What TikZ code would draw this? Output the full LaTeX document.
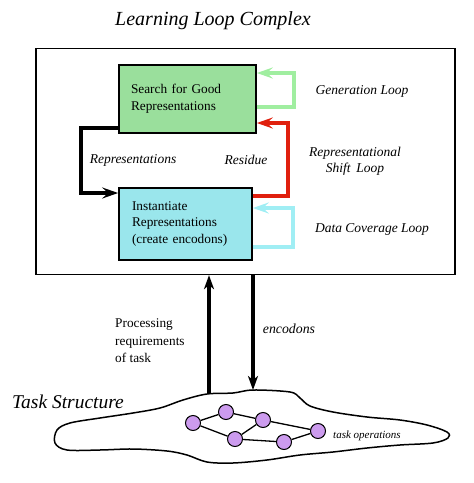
\documentclass[tikz,border=0pt]{standalone}
\usepackage{fontspec}
\setmainfont{Liberation Serif}
\usetikzlibrary{arrows.meta,calc}
\definecolor{boxgreen}{HTML}{9ADF9C}
\definecolor{loopgreen}{HTML}{A0EEA0}
\definecolor{boxcyan}{HTML}{9AE6EC}
\definecolor{loopcyan}{HTML}{A0EEF4}
\definecolor{loopred}{HTML}{E0200E}
\definecolor{opfill}{HTML}{CC9BEE}
\tikzset{
  procbox/.style={draw=black, line width=1.6pt, align=left, anchor=center},
  loopline/.style={line width=4.5pt, line join=miter, -{Stealth[length=16pt,width=11pt,inset=6pt]}},
  bigarrow/.style={line width=4pt, -{Stealth[length=14pt,width=10pt,inset=4pt]}},
  lbl/.style={font=\fontsize{13.5}{16}\selectfont\itshape, inner sep=0pt},
  op/.style={circle, draw=black, line width=1pt, fill=opfill, minimum size=15pt, inner sep=0pt},
  opedge/.style={line width=1.3pt}
}
\begin{document}
\begin{tikzpicture}[x=1pt,y=-1pt]
\useasboundingbox (0,0) rectangle (474,483);
% title
\node[inner sep=0pt, font=\fontsize{20}{24}\selectfont\itshape] (title) at (213,21) {Learning Loop Complex};
% outer box
\node[draw=black, line width=1.3pt, minimum width=419pt, minimum height=226pt, inner sep=0pt] (outer) at (245.5,161.5) {};
% boxes
\node[procbox, fill=boxgreen, minimum width=137pt, minimum height=68pt, text width=113pt, inner xsep=12pt,
      font=\fontsize{13.3}{17}\selectfont] (g) at (187.5,99) {Search for Good\\Representations};
\node[procbox, fill=boxcyan, minimum width=133pt, minimum height=72pt, text width=107pt, inner xsep=13pt,
      font=\fontsize{13.3}{16.5}\selectfont] (c) at (185.5,224) {Instantiate\\Representations\\(create encodons)};
% loops
\draw[loopline, draw=loopgreen] ([yshift=-8pt]g.east) -- ++(37,0) |- ([yshift=26pt]g.east);
\draw[loopline, draw=loopred] ([yshift=28pt]c.east) -- (288,196) |- ([yshift=-24pt]g.east);
\draw[loopline, draw=loopcyan] ([yshift=-23pt]c.east) -- ++(40,0) |- ([yshift=16pt]c.east);
\draw[loopline, draw=black] ([yshift=-29pt]g.west) -- (81,128) |- ([yshift=31pt]c.west);
% loop labels
\node[lbl] (lgen) at (362,91) {Generation Loop};
\node[lbl, align=center] (lshift) at (355,161) {Representational\\Shift\, Loop};
\node[lbl] (ldata) at (372,229) {Data Coverage Loop};
\node[lbl] (lrep) at (133,160) {Representations};
\node[lbl] (lres) at (246,160) {Residue};
% task structure blob
\draw[line width=1.5pt] plot[smooth cycle, tension=0.55] coordinates {
 (207,394) (233,393) (253,390) (290,392) (300,398) (310,406) (333,412) (367,417)
 (400,420) (427,425) (447,432) (448,438) (433,443) (400,445) (367,448) (333,452)
 (300,455) (267,460) (233,463) (207,462) (187,455) (167,451) (133,449) (100,450)
 (67,450) (55,443) (57,430) (70,423) (100,418) (133,413) (160,408) (183,400)};
\coordinate (b1) at (209,393);
\coordinate (b2) at (253,390);
\node[inner sep=0pt, font=\fontsize{19.5}{23}\selectfont\itshape] (ts) at (68,402) {Task Structure};
% vertical arrows
\draw[bigarrow] (b1) -- (b1 |- outer.south);
\draw[bigarrow] (b2 |- outer.south) -- (b2);
\node[inner sep=0pt, align=left, anchor=west, font=\fontsize{13.3}{17.5}\selectfont] (proc) at (115,341) {Processing\\requirements\\of task};
\node[lbl, font=\fontsize{13.8}{16}\selectfont\itshape] (enc) at (289,329) {encodons};
% task operations graph
\node[op] (n1) at (193,423) {};
\node[op] (n2) at (226,412) {};
\node[op] (n3) at (263,420) {};
\node[op] (n4) at (235,439) {};
\node[op] (n5) at (284,442) {};
\node[op] (n6) at (318,431) {};
\draw[opedge] (n1) -- (n2) (n2) -- (n3) (n1) -- (n4) (n4) -- (n3) (n3) -- (n6) (n4) -- (n5) (n5) -- (n6);
\node[inner sep=0pt, font=\fontsize{11}{13}\selectfont\itshape] (tops) at (367,436) {task operations};
\end{tikzpicture}
\end{document}
